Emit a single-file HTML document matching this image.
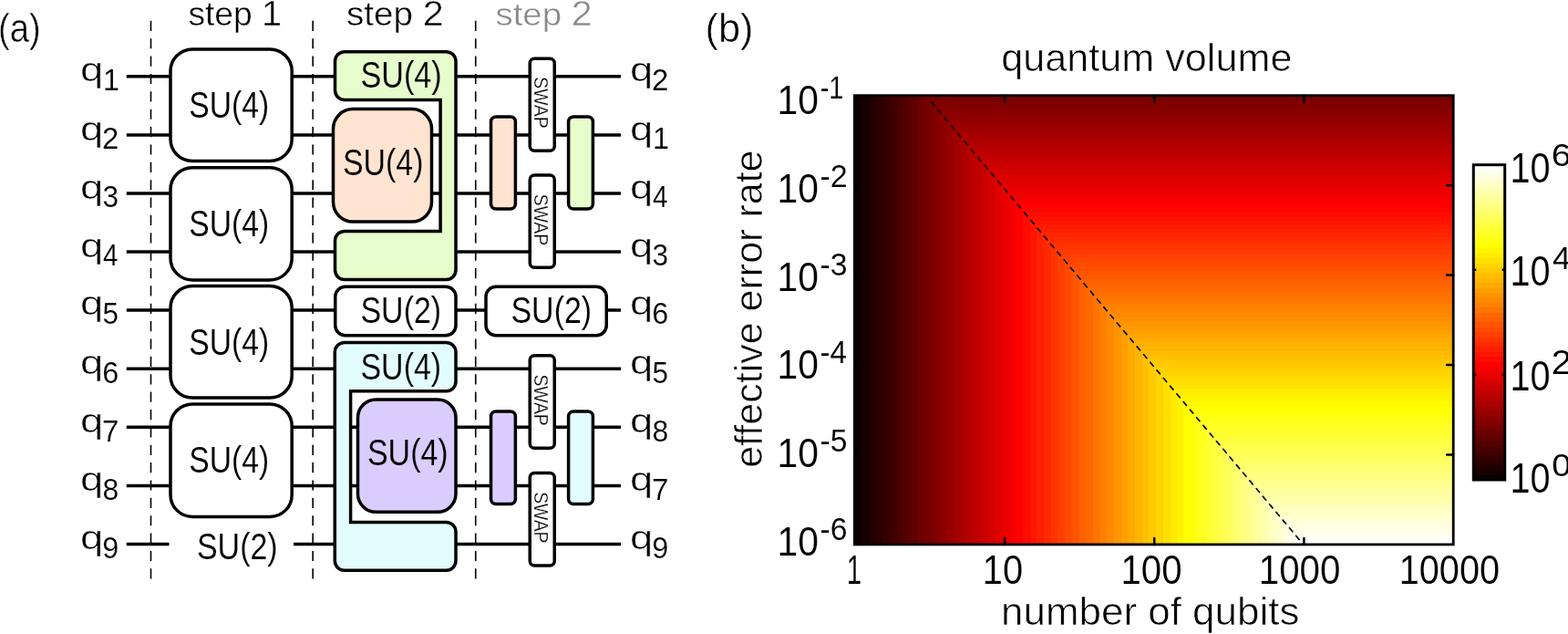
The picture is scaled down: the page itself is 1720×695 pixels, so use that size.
<!DOCTYPE html>
<html><head><meta charset="utf-8"><title>quantum volume</title>
<style>
html,body{margin:0;padding:0;background:#fff;}
body{width:1720px;height:695px;overflow:hidden;}
svg{display:block;}
text{font-family:"Liberation Sans", sans-serif;white-space:pre;}
</style></head><body>
<svg width="1720" height="695" viewBox="0 0 1720 695">
<rect width="1720" height="695" fill="#fff"/>
<g stroke="#000" stroke-width="3.5" fill="none">
<path d="M138.75 83.7H681"/>
<path d="M138.75 148.0H681"/>
<path d="M138.75 212.0H681"/>
<path d="M138.75 276.0H681"/>
<path d="M138.75 339.9H681"/>
<path d="M138.75 404.3H681"/>
<path d="M138.75 468.3H681"/>
<path d="M138.75 532.4H681"/>
<path d="M138.75 596.4H185.5M322 596.4H681"/>
</g>
<g stroke="#000" stroke-width="1.6" stroke-dasharray="11.2 8.17" fill="none">
<path d="M165.5 22.8V634.6"/>
<path d="M343.2 22.8V634.6"/>
<path d="M521.75 22.8V634.6"/>
</g>
<rect x="187" y="53.9" width="133.20" height="122.70" rx="24" ry="24" fill="#fff" stroke="#000" stroke-width="3.5"/>
<rect x="187" y="183.75" width="133.20" height="123.15" rx="24" ry="24" fill="#fff" stroke="#000" stroke-width="3.5"/>
<rect x="187" y="313.5" width="133.20" height="122.60" rx="24" ry="24" fill="#fff" stroke="#000" stroke-width="3.5"/>
<rect x="187" y="443.0" width="133.20" height="123.40" rx="24" ry="24" fill="#fff" stroke="#000" stroke-width="3.5"/>
<path d="M378.0 56.75H489.5A10.5 10.5 0 0 1 500 67.25V296.0A10.5 10.5 0 0 1 489.5 306.5H378.0A10.5 10.5 0 0 1 367.5 296.0V264.0A10.5 10.5 0 0 1 378.0 253.5H483.1V109.5H378.0A10.5 10.5 0 0 1 367.5 99.0V67.25A10.5 10.5 0 0 1 378.0 56.75Z" fill="#E6FCCC" stroke="#000" stroke-width="3.5" stroke-linejoin="miter"/>
<rect x="365.5" y="119.6" width="108.00" height="123.40" rx="21.5" ry="21.5" fill="#FFE4D1" stroke="#000" stroke-width="3.5"/>
<rect x="367.75" y="314.2" width="132.25" height="53.50" rx="11" ry="11" fill="#fff" stroke="#000" stroke-width="3.5"/>
<rect x="533" y="314.2" width="132.25" height="53.50" rx="11" ry="11" fill="#fff" stroke="#000" stroke-width="3.5"/>
<path d="M377.8 375.5H489.5A10.5 10.5 0 0 1 500 386.0V418.25A10.5 10.5 0 0 1 489.5 428.75H384.6V572.4H489.5A10.5 10.5 0 0 1 500 582.9V614.75A10.5 10.5 0 0 1 489.5 625.25H377.8A10.5 10.5 0 0 1 367.3 614.75V386.0A10.5 10.5 0 0 1 377.8 375.5Z" fill="#E3FDFE" stroke="#000" stroke-width="3.5" stroke-linejoin="miter"/>
<rect x="392.5" y="438" width="107.50" height="123.25" rx="20" ry="20" fill="#DACCFD" stroke="#000" stroke-width="3.5"/>
<rect x="581.25" y="64.25" width="27.00" height="101.00" rx="5" ry="5" fill="#fff" stroke="#000" stroke-width="3.5"/>
<rect x="581.25" y="192.05" width="27.00" height="101.20" rx="5" ry="5" fill="#fff" stroke="#000" stroke-width="3.5"/>
<rect x="581.25" y="389.75" width="27.00" height="101.50" rx="5" ry="5" fill="#fff" stroke="#000" stroke-width="3.5"/>
<rect x="581.25" y="518.5" width="27.00" height="101.50" rx="5" ry="5" fill="#fff" stroke="#000" stroke-width="3.5"/>
<rect x="538.5" y="128" width="26.90" height="101.00" rx="5.5" ry="5.5" fill="#FFE4D1" stroke="#000" stroke-width="3.5"/>
<rect x="623.6" y="128" width="26.80" height="101.00" rx="5.5" ry="5.5" fill="#E6FCCC" stroke="#000" stroke-width="3.5"/>
<rect x="538.5" y="451" width="26.90" height="101.50" rx="5.5" ry="5.5" fill="#DACCFD" stroke="#000" stroke-width="3.5"/>
<rect x="623.6" y="451" width="26.80" height="101.50" rx="5.5" ry="5.5" fill="#E3FDFE" stroke="#000" stroke-width="3.5"/>
<g font-family='"Liberation Sans", sans-serif'>
<text transform="translate(-2.09 45.60) scale(0.8697 1.02)" font-size="44" fill="#000" stroke="#fff" stroke-width="0.53" vector-effect="non-scaling-stroke">(a)</text>
<text transform="translate(773.54 45.60) scale(0.9836 1.02)" font-size="44" fill="#000" stroke="#fff" stroke-width="0.53" vector-effect="non-scaling-stroke">(b)</text>
<text transform="translate(206.38 27.50) scale(1.0342 1)" font-size="36" fill="#000" stroke="#fff" stroke-width="0.43" vector-effect="non-scaling-stroke">step <tspan font-size="38.5">1</tspan></text>
<text transform="translate(379.94 27.50) scale(1.0725 1)" font-size="36" fill="#000" stroke="#fff" stroke-width="0.43" vector-effect="non-scaling-stroke">step <tspan font-size="38.5">2</tspan></text>
<text transform="translate(543.44 27.50) scale(1.0673 1)" font-size="36" fill="#8a8a8a" stroke="#fff" stroke-width="0.43" vector-effect="non-scaling-stroke">step <tspan font-size="38.5">2</tspan></text>
<text transform="translate(88.07 89.20) scale(1.0303 0.85)" font-size="44" fill="#000" stroke="#fff" stroke-width="0.57" vector-effect="non-scaling-stroke">q</text>
<text transform="translate(113.07 98.90) scale(0.9960 1)" font-size="32.5" fill="#000" stroke="#fff" stroke-width="0.13" vector-effect="non-scaling-stroke">1</text>
<text transform="translate(691.07 89.20) scale(1.0303 0.85)" font-size="44" fill="#000" stroke="#fff" stroke-width="0.57" vector-effect="non-scaling-stroke">q</text>
<text transform="translate(715.10 98.90) scale(1.0144 1)" font-size="32.5" fill="#000" stroke="#fff" stroke-width="0.13" vector-effect="non-scaling-stroke">2</text>
<text transform="translate(88.07 153.50) scale(1.0303 0.85)" font-size="44" fill="#000" stroke="#fff" stroke-width="0.57" vector-effect="non-scaling-stroke">q</text>
<text transform="translate(112.10 163.20) scale(1.0144 1)" font-size="32.5" fill="#000" stroke="#fff" stroke-width="0.13" vector-effect="non-scaling-stroke">2</text>
<text transform="translate(691.07 153.50) scale(1.0303 0.85)" font-size="44" fill="#000" stroke="#fff" stroke-width="0.57" vector-effect="non-scaling-stroke">q</text>
<text transform="translate(716.07 163.20) scale(0.9960 1)" font-size="32.5" fill="#000" stroke="#fff" stroke-width="0.13" vector-effect="non-scaling-stroke">1</text>
<text transform="translate(88.07 217.50) scale(1.0303 0.85)" font-size="44" fill="#000" stroke="#fff" stroke-width="0.57" vector-effect="non-scaling-stroke">q</text>
<text transform="translate(112.57 227.20) scale(0.9717 1)" font-size="32.5" fill="#000" stroke="#fff" stroke-width="0.13" vector-effect="non-scaling-stroke">3</text>
<text transform="translate(691.07 217.50) scale(1.0303 0.85)" font-size="44" fill="#000" stroke="#fff" stroke-width="0.57" vector-effect="non-scaling-stroke">q</text>
<text transform="translate(716.08 227.20) scale(0.9139 1)" font-size="32.5" fill="#000" stroke="#fff" stroke-width="0.13" vector-effect="non-scaling-stroke">4</text>
<text transform="translate(88.07 281.50) scale(1.0303 0.85)" font-size="44" fill="#000" stroke="#fff" stroke-width="0.57" vector-effect="non-scaling-stroke">q</text>
<text transform="translate(113.08 291.20) scale(0.9139 1)" font-size="32.5" fill="#000" stroke="#fff" stroke-width="0.13" vector-effect="non-scaling-stroke">4</text>
<text transform="translate(691.07 281.50) scale(1.0303 0.85)" font-size="44" fill="#000" stroke="#fff" stroke-width="0.57" vector-effect="non-scaling-stroke">q</text>
<text transform="translate(715.57 291.20) scale(0.9717 1)" font-size="32.5" fill="#000" stroke="#fff" stroke-width="0.13" vector-effect="non-scaling-stroke">3</text>
<text transform="translate(88.07 345.40) scale(1.0303 0.85)" font-size="44" fill="#000" stroke="#fff" stroke-width="0.57" vector-effect="non-scaling-stroke">q</text>
<text transform="translate(112.49 355.10) scale(0.9717 1)" font-size="32.5" fill="#000" stroke="#fff" stroke-width="0.13" vector-effect="non-scaling-stroke">5</text>
<text transform="translate(691.07 345.40) scale(1.0303 0.85)" font-size="44" fill="#000" stroke="#fff" stroke-width="0.57" vector-effect="non-scaling-stroke">q</text>
<text transform="translate(715.13 355.10) scale(0.9979 1)" font-size="32.5" fill="#000" stroke="#fff" stroke-width="0.13" vector-effect="non-scaling-stroke">6</text>
<text transform="translate(88.07 409.80) scale(1.0303 0.85)" font-size="44" fill="#000" stroke="#fff" stroke-width="0.57" vector-effect="non-scaling-stroke">q</text>
<text transform="translate(112.13 419.50) scale(0.9979 1)" font-size="32.5" fill="#000" stroke="#fff" stroke-width="0.13" vector-effect="non-scaling-stroke">6</text>
<text transform="translate(691.07 409.80) scale(1.0303 0.85)" font-size="44" fill="#000" stroke="#fff" stroke-width="0.57" vector-effect="non-scaling-stroke">q</text>
<text transform="translate(715.49 419.50) scale(0.9717 1)" font-size="32.5" fill="#000" stroke="#fff" stroke-width="0.13" vector-effect="non-scaling-stroke">5</text>
<text transform="translate(88.07 473.80) scale(1.0303 0.85)" font-size="44" fill="#000" stroke="#fff" stroke-width="0.57" vector-effect="non-scaling-stroke">q</text>
<text transform="translate(112.01 483.50) scale(1.0200 1)" font-size="32.5" fill="#000" stroke="#fff" stroke-width="0.13" vector-effect="non-scaling-stroke">7</text>
<text transform="translate(691.07 473.80) scale(1.0303 0.85)" font-size="44" fill="#000" stroke="#fff" stroke-width="0.57" vector-effect="non-scaling-stroke">q</text>
<text transform="translate(715.39 483.50) scale(0.9820 1)" font-size="32.5" fill="#000" stroke="#fff" stroke-width="0.13" vector-effect="non-scaling-stroke">8</text>
<text transform="translate(88.07 537.90) scale(1.0303 0.85)" font-size="44" fill="#000" stroke="#fff" stroke-width="0.57" vector-effect="non-scaling-stroke">q</text>
<text transform="translate(112.39 547.60) scale(0.9820 1)" font-size="32.5" fill="#000" stroke="#fff" stroke-width="0.13" vector-effect="non-scaling-stroke">8</text>
<text transform="translate(691.07 537.90) scale(1.0303 0.85)" font-size="44" fill="#000" stroke="#fff" stroke-width="0.57" vector-effect="non-scaling-stroke">q</text>
<text transform="translate(715.01 547.60) scale(1.0200 1)" font-size="32.5" fill="#000" stroke="#fff" stroke-width="0.13" vector-effect="non-scaling-stroke">7</text>
<text transform="translate(88.07 601.90) scale(1.0303 0.85)" font-size="44" fill="#000" stroke="#fff" stroke-width="0.57" vector-effect="non-scaling-stroke">q</text>
<text transform="translate(112.21 611.60) scale(0.9979 1)" font-size="32.5" fill="#000" stroke="#fff" stroke-width="0.13" vector-effect="non-scaling-stroke">9</text>
<text transform="translate(691.07 601.90) scale(1.0303 0.85)" font-size="44" fill="#000" stroke="#fff" stroke-width="0.57" vector-effect="non-scaling-stroke">q</text>
<text transform="translate(715.21 611.60) scale(0.9979 1)" font-size="32.5" fill="#000" stroke="#fff" stroke-width="0.13" vector-effect="non-scaling-stroke">9</text>
<text transform="translate(207.24 129.10) scale(0.8313 1)" font-size="40.5" fill="#000" stroke="#fff" stroke-width="0.12" vector-effect="non-scaling-stroke">SU(4)</text>
<text transform="translate(207.24 258.90) scale(0.8313 1)" font-size="40.5" fill="#000" stroke="#fff" stroke-width="0.12" vector-effect="non-scaling-stroke">SU(4)</text>
<text transform="translate(207.24 388.65) scale(0.8313 1)" font-size="40.5" fill="#000" stroke="#fff" stroke-width="0.12" vector-effect="non-scaling-stroke">SU(4)</text>
<text transform="translate(207.24 518.30) scale(0.8313 1)" font-size="40.5" fill="#000" stroke="#fff" stroke-width="0.12" vector-effect="non-scaling-stroke">SU(4)</text>
<text transform="translate(215.97 612.50) scale(0.8387 1)" font-size="40.5" fill="#000" stroke="#fff" stroke-width="0.12" vector-effect="non-scaling-stroke">SU(2)</text>
<text transform="translate(395.46 95.75) scale(0.8436 1)" font-size="40.5" fill="#000" stroke="#E6FCCC" stroke-width="0.12" vector-effect="non-scaling-stroke">SU(4)</text>
<text transform="translate(375.98 192.30) scale(0.8367 1)" font-size="40.5" fill="#000" stroke="#FFE4D1" stroke-width="0.12" vector-effect="non-scaling-stroke">SU(4)</text>
<text transform="translate(395.47 353.75) scale(0.8387 1)" font-size="40.5" fill="#000" stroke="#fff" stroke-width="0.12" vector-effect="non-scaling-stroke">SU(2)</text>
<text transform="translate(560.47 353.75) scale(0.8387 1)" font-size="40.5" fill="#000" stroke="#fff" stroke-width="0.12" vector-effect="non-scaling-stroke">SU(2)</text>
<text transform="translate(395.47 416.25) scale(0.8387 1)" font-size="40.5" fill="#000" stroke="#E3FDFE" stroke-width="0.12" vector-effect="non-scaling-stroke">SU(4)</text>
<text transform="translate(402.97 510.00) scale(0.8387 1)" font-size="40.5" fill="#000" stroke="#DACCFD" stroke-width="0.12" vector-effect="non-scaling-stroke">SU(4)</text>
<text transform="translate(586.10 84.30) rotate(90) scale(0.8800 1)" font-size="22" fill="#000" stroke="#fff" stroke-width="0.26" vector-effect="non-scaling-stroke">SWAP</text>
<text transform="translate(586.10 212.80) rotate(90) scale(0.8800 1)" font-size="22" fill="#000" stroke="#fff" stroke-width="0.26" vector-effect="non-scaling-stroke">SWAP</text>
<text transform="translate(586.10 410.43) rotate(90) scale(0.8800 1)" font-size="22" fill="#000" stroke="#fff" stroke-width="0.26" vector-effect="non-scaling-stroke">SWAP</text>
<text transform="translate(586.10 539.18) rotate(90) scale(0.8800 1)" font-size="22" fill="#000" stroke="#fff" stroke-width="0.26" vector-effect="non-scaling-stroke">SWAP</text>
</g>
<defs>
<linearGradient id="gh" gradientUnits="userSpaceOnUse" x1="937.4" y1="0" x2="1429.70" y2="0"><stop offset="0.00000" stop-color="#0b0000"/><stop offset="0.01562" stop-color="#0b0000"/><stop offset="0.01562" stop-color="#150000"/><stop offset="0.03125" stop-color="#150000"/><stop offset="0.03125" stop-color="#200000"/><stop offset="0.04688" stop-color="#200000"/><stop offset="0.04688" stop-color="#2a0000"/><stop offset="0.06250" stop-color="#2a0000"/><stop offset="0.06250" stop-color="#350000"/><stop offset="0.07812" stop-color="#350000"/><stop offset="0.07812" stop-color="#400000"/><stop offset="0.09375" stop-color="#400000"/><stop offset="0.09375" stop-color="#4a0000"/><stop offset="0.10938" stop-color="#4a0000"/><stop offset="0.10938" stop-color="#550000"/><stop offset="0.12500" stop-color="#550000"/><stop offset="0.12500" stop-color="#600000"/><stop offset="0.14062" stop-color="#600000"/><stop offset="0.14062" stop-color="#6a0000"/><stop offset="0.15625" stop-color="#6a0000"/><stop offset="0.15625" stop-color="#750000"/><stop offset="0.17188" stop-color="#750000"/><stop offset="0.17188" stop-color="#800000"/><stop offset="0.18750" stop-color="#800000"/><stop offset="0.18750" stop-color="#8a0000"/><stop offset="0.20312" stop-color="#8a0000"/><stop offset="0.20312" stop-color="#950000"/><stop offset="0.21875" stop-color="#950000"/><stop offset="0.21875" stop-color="#9f0000"/><stop offset="0.23438" stop-color="#9f0000"/><stop offset="0.23438" stop-color="#aa0000"/><stop offset="0.25000" stop-color="#aa0000"/><stop offset="0.25000" stop-color="#b50000"/><stop offset="0.26562" stop-color="#b50000"/><stop offset="0.26562" stop-color="#bf0000"/><stop offset="0.28125" stop-color="#bf0000"/><stop offset="0.28125" stop-color="#ca0000"/><stop offset="0.29688" stop-color="#ca0000"/><stop offset="0.29688" stop-color="#d40000"/><stop offset="0.31250" stop-color="#d40000"/><stop offset="0.31250" stop-color="#df0000"/><stop offset="0.32812" stop-color="#df0000"/><stop offset="0.32812" stop-color="#ea0000"/><stop offset="0.34375" stop-color="#ea0000"/><stop offset="0.34375" stop-color="#f40000"/><stop offset="0.35938" stop-color="#f40000"/><stop offset="0.35938" stop-color="#ff0000"/><stop offset="0.37500" stop-color="#ff0000"/><stop offset="0.37500" stop-color="#ff0b00"/><stop offset="0.39062" stop-color="#ff0b00"/><stop offset="0.39062" stop-color="#ff1500"/><stop offset="0.40625" stop-color="#ff1500"/><stop offset="0.40625" stop-color="#ff2000"/><stop offset="0.42188" stop-color="#ff2000"/><stop offset="0.42188" stop-color="#ff2a00"/><stop offset="0.43750" stop-color="#ff2a00"/><stop offset="0.43750" stop-color="#ff3500"/><stop offset="0.45312" stop-color="#ff3500"/><stop offset="0.45312" stop-color="#ff4000"/><stop offset="0.46875" stop-color="#ff4000"/><stop offset="0.46875" stop-color="#ff4a00"/><stop offset="0.48438" stop-color="#ff4a00"/><stop offset="0.48438" stop-color="#ff5500"/><stop offset="0.50000" stop-color="#ff5500"/><stop offset="0.50000" stop-color="#ff6000"/><stop offset="0.51562" stop-color="#ff6000"/><stop offset="0.51562" stop-color="#ff6a00"/><stop offset="0.53125" stop-color="#ff6a00"/><stop offset="0.53125" stop-color="#ff7500"/><stop offset="0.54688" stop-color="#ff7500"/><stop offset="0.54688" stop-color="#ff8000"/><stop offset="0.56250" stop-color="#ff8000"/><stop offset="0.56250" stop-color="#ff8a00"/><stop offset="0.57812" stop-color="#ff8a00"/><stop offset="0.57812" stop-color="#ff9500"/><stop offset="0.59375" stop-color="#ff9500"/><stop offset="0.59375" stop-color="#ff9f00"/><stop offset="0.60938" stop-color="#ff9f00"/><stop offset="0.60938" stop-color="#ffaa00"/><stop offset="0.62500" stop-color="#ffaa00"/><stop offset="0.62500" stop-color="#ffb500"/><stop offset="0.64062" stop-color="#ffb500"/><stop offset="0.64062" stop-color="#ffbf00"/><stop offset="0.65625" stop-color="#ffbf00"/><stop offset="0.65625" stop-color="#ffca00"/><stop offset="0.67188" stop-color="#ffca00"/><stop offset="0.67188" stop-color="#ffd400"/><stop offset="0.68750" stop-color="#ffd400"/><stop offset="0.68750" stop-color="#ffdf00"/><stop offset="0.70312" stop-color="#ffdf00"/><stop offset="0.70312" stop-color="#ffea00"/><stop offset="0.71875" stop-color="#ffea00"/><stop offset="0.71875" stop-color="#fff400"/><stop offset="0.73438" stop-color="#fff400"/><stop offset="0.73438" stop-color="#ffff00"/><stop offset="0.75000" stop-color="#ffff00"/><stop offset="0.75000" stop-color="#ffff10"/><stop offset="0.76562" stop-color="#ffff10"/><stop offset="0.76562" stop-color="#ffff20"/><stop offset="0.78125" stop-color="#ffff20"/><stop offset="0.78125" stop-color="#ffff30"/><stop offset="0.79688" stop-color="#ffff30"/><stop offset="0.79688" stop-color="#ffff40"/><stop offset="0.81250" stop-color="#ffff40"/><stop offset="0.81250" stop-color="#ffff50"/><stop offset="0.82812" stop-color="#ffff50"/><stop offset="0.82812" stop-color="#ffff60"/><stop offset="0.84375" stop-color="#ffff60"/><stop offset="0.84375" stop-color="#ffff70"/><stop offset="0.85938" stop-color="#ffff70"/><stop offset="0.85938" stop-color="#ffff80"/><stop offset="0.87500" stop-color="#ffff80"/><stop offset="0.87500" stop-color="#ffff8f"/><stop offset="0.89062" stop-color="#ffff8f"/><stop offset="0.89062" stop-color="#ffff9f"/><stop offset="0.90625" stop-color="#ffff9f"/><stop offset="0.90625" stop-color="#ffffaf"/><stop offset="0.92188" stop-color="#ffffaf"/><stop offset="0.92188" stop-color="#ffffbf"/><stop offset="0.93750" stop-color="#ffffbf"/><stop offset="0.93750" stop-color="#ffffcf"/><stop offset="0.95312" stop-color="#ffffcf"/><stop offset="0.95312" stop-color="#ffffdf"/><stop offset="0.96875" stop-color="#ffffdf"/><stop offset="0.96875" stop-color="#ffffef"/><stop offset="0.98438" stop-color="#ffffef"/><stop offset="0.98438" stop-color="#ffffff"/><stop offset="1.00000" stop-color="#ffffff"/></linearGradient>
<linearGradient id="gv" gradientUnits="userSpaceOnUse" x1="0" y1="6.26" x2="0" y2="596.9"><stop offset="0.00000" stop-color="#050000"/><stop offset="0.00781" stop-color="#050000"/><stop offset="0.00781" stop-color="#0b0000"/><stop offset="0.01562" stop-color="#0b0000"/><stop offset="0.01562" stop-color="#100000"/><stop offset="0.02344" stop-color="#100000"/><stop offset="0.02344" stop-color="#150000"/><stop offset="0.03125" stop-color="#150000"/><stop offset="0.03125" stop-color="#1b0000"/><stop offset="0.03906" stop-color="#1b0000"/><stop offset="0.03906" stop-color="#200000"/><stop offset="0.04688" stop-color="#200000"/><stop offset="0.04688" stop-color="#250000"/><stop offset="0.05469" stop-color="#250000"/><stop offset="0.05469" stop-color="#2a0000"/><stop offset="0.06250" stop-color="#2a0000"/><stop offset="0.06250" stop-color="#300000"/><stop offset="0.07031" stop-color="#300000"/><stop offset="0.07031" stop-color="#350000"/><stop offset="0.07812" stop-color="#350000"/><stop offset="0.07812" stop-color="#3a0000"/><stop offset="0.08594" stop-color="#3a0000"/><stop offset="0.08594" stop-color="#400000"/><stop offset="0.09375" stop-color="#400000"/><stop offset="0.09375" stop-color="#450000"/><stop offset="0.10156" stop-color="#450000"/><stop offset="0.10156" stop-color="#4a0000"/><stop offset="0.10938" stop-color="#4a0000"/><stop offset="0.10938" stop-color="#500000"/><stop offset="0.11719" stop-color="#500000"/><stop offset="0.11719" stop-color="#550000"/><stop offset="0.12500" stop-color="#550000"/><stop offset="0.12500" stop-color="#5a0000"/><stop offset="0.13281" stop-color="#5a0000"/><stop offset="0.13281" stop-color="#600000"/><stop offset="0.14062" stop-color="#600000"/><stop offset="0.14062" stop-color="#650000"/><stop offset="0.14844" stop-color="#650000"/><stop offset="0.14844" stop-color="#6a0000"/><stop offset="0.15625" stop-color="#6a0000"/><stop offset="0.15625" stop-color="#700000"/><stop offset="0.16406" stop-color="#700000"/><stop offset="0.16406" stop-color="#750000"/><stop offset="0.17188" stop-color="#750000"/><stop offset="0.17188" stop-color="#7a0000"/><stop offset="0.17969" stop-color="#7a0000"/><stop offset="0.17969" stop-color="#800000"/><stop offset="0.18750" stop-color="#800000"/><stop offset="0.18750" stop-color="#850000"/><stop offset="0.19531" stop-color="#850000"/><stop offset="0.19531" stop-color="#8a0000"/><stop offset="0.20312" stop-color="#8a0000"/><stop offset="0.20312" stop-color="#8f0000"/><stop offset="0.21094" stop-color="#8f0000"/><stop offset="0.21094" stop-color="#950000"/><stop offset="0.21875" stop-color="#950000"/><stop offset="0.21875" stop-color="#9a0000"/><stop offset="0.22656" stop-color="#9a0000"/><stop offset="0.22656" stop-color="#9f0000"/><stop offset="0.23438" stop-color="#9f0000"/><stop offset="0.23438" stop-color="#a50000"/><stop offset="0.24219" stop-color="#a50000"/><stop offset="0.24219" stop-color="#aa0000"/><stop offset="0.25000" stop-color="#aa0000"/><stop offset="0.25000" stop-color="#af0000"/><stop offset="0.25781" stop-color="#af0000"/><stop offset="0.25781" stop-color="#b50000"/><stop offset="0.26562" stop-color="#b50000"/><stop offset="0.26562" stop-color="#ba0000"/><stop offset="0.27344" stop-color="#ba0000"/><stop offset="0.27344" stop-color="#bf0000"/><stop offset="0.28125" stop-color="#bf0000"/><stop offset="0.28125" stop-color="#c50000"/><stop offset="0.28906" stop-color="#c50000"/><stop offset="0.28906" stop-color="#ca0000"/><stop offset="0.29688" stop-color="#ca0000"/><stop offset="0.29688" stop-color="#cf0000"/><stop offset="0.30469" stop-color="#cf0000"/><stop offset="0.30469" stop-color="#d40000"/><stop offset="0.31250" stop-color="#d40000"/><stop offset="0.31250" stop-color="#da0000"/><stop offset="0.32031" stop-color="#da0000"/><stop offset="0.32031" stop-color="#df0000"/><stop offset="0.32812" stop-color="#df0000"/><stop offset="0.32812" stop-color="#e40000"/><stop offset="0.33594" stop-color="#e40000"/><stop offset="0.33594" stop-color="#ea0000"/><stop offset="0.34375" stop-color="#ea0000"/><stop offset="0.34375" stop-color="#ef0000"/><stop offset="0.35156" stop-color="#ef0000"/><stop offset="0.35156" stop-color="#f40000"/><stop offset="0.35938" stop-color="#f40000"/><stop offset="0.35938" stop-color="#fa0000"/><stop offset="0.36719" stop-color="#fa0000"/><stop offset="0.36719" stop-color="#ff0000"/><stop offset="0.37500" stop-color="#ff0000"/><stop offset="0.37500" stop-color="#ff0500"/><stop offset="0.38281" stop-color="#ff0500"/><stop offset="0.38281" stop-color="#ff0b00"/><stop offset="0.39062" stop-color="#ff0b00"/><stop offset="0.39062" stop-color="#ff1000"/><stop offset="0.39844" stop-color="#ff1000"/><stop offset="0.39844" stop-color="#ff1500"/><stop offset="0.40625" stop-color="#ff1500"/><stop offset="0.40625" stop-color="#ff1b00"/><stop offset="0.41406" stop-color="#ff1b00"/><stop offset="0.41406" stop-color="#ff2000"/><stop offset="0.42188" stop-color="#ff2000"/><stop offset="0.42188" stop-color="#ff2500"/><stop offset="0.42969" stop-color="#ff2500"/><stop offset="0.42969" stop-color="#ff2b00"/><stop offset="0.43750" stop-color="#ff2b00"/><stop offset="0.43750" stop-color="#ff3000"/><stop offset="0.44531" stop-color="#ff3000"/><stop offset="0.44531" stop-color="#ff3500"/><stop offset="0.45312" stop-color="#ff3500"/><stop offset="0.45312" stop-color="#ff3a00"/><stop offset="0.46094" stop-color="#ff3a00"/><stop offset="0.46094" stop-color="#ff4000"/><stop offset="0.46875" stop-color="#ff4000"/><stop offset="0.46875" stop-color="#ff4500"/><stop offset="0.47656" stop-color="#ff4500"/><stop offset="0.47656" stop-color="#ff4a00"/><stop offset="0.48438" stop-color="#ff4a00"/><stop offset="0.48438" stop-color="#ff5000"/><stop offset="0.49219" stop-color="#ff5000"/><stop offset="0.49219" stop-color="#ff5500"/><stop offset="0.50000" stop-color="#ff5500"/><stop offset="0.50000" stop-color="#ff5a00"/><stop offset="0.50781" stop-color="#ff5a00"/><stop offset="0.50781" stop-color="#ff6000"/><stop offset="0.51562" stop-color="#ff6000"/><stop offset="0.51562" stop-color="#ff6500"/><stop offset="0.52344" stop-color="#ff6500"/><stop offset="0.52344" stop-color="#ff6a00"/><stop offset="0.53125" stop-color="#ff6a00"/><stop offset="0.53125" stop-color="#ff7000"/><stop offset="0.53906" stop-color="#ff7000"/><stop offset="0.53906" stop-color="#ff7500"/><stop offset="0.54688" stop-color="#ff7500"/><stop offset="0.54688" stop-color="#ff7a00"/><stop offset="0.55469" stop-color="#ff7a00"/><stop offset="0.55469" stop-color="#ff8000"/><stop offset="0.56250" stop-color="#ff8000"/><stop offset="0.56250" stop-color="#ff8500"/><stop offset="0.57031" stop-color="#ff8500"/><stop offset="0.57031" stop-color="#ff8a00"/><stop offset="0.57812" stop-color="#ff8a00"/><stop offset="0.57812" stop-color="#ff8f00"/><stop offset="0.58594" stop-color="#ff8f00"/><stop offset="0.58594" stop-color="#ff9500"/><stop offset="0.59375" stop-color="#ff9500"/><stop offset="0.59375" stop-color="#ff9a00"/><stop offset="0.60156" stop-color="#ff9a00"/><stop offset="0.60156" stop-color="#ff9f00"/><stop offset="0.60938" stop-color="#ff9f00"/><stop offset="0.60938" stop-color="#ffa500"/><stop offset="0.61719" stop-color="#ffa500"/><stop offset="0.61719" stop-color="#ffaa00"/><stop offset="0.62500" stop-color="#ffaa00"/><stop offset="0.62500" stop-color="#ffaf00"/><stop offset="0.63281" stop-color="#ffaf00"/><stop offset="0.63281" stop-color="#ffb500"/><stop offset="0.64062" stop-color="#ffb500"/><stop offset="0.64062" stop-color="#ffba00"/><stop offset="0.64844" stop-color="#ffba00"/><stop offset="0.64844" stop-color="#ffbf00"/><stop offset="0.65625" stop-color="#ffbf00"/><stop offset="0.65625" stop-color="#ffc500"/><stop offset="0.66406" stop-color="#ffc500"/><stop offset="0.66406" stop-color="#ffca00"/><stop offset="0.67188" stop-color="#ffca00"/><stop offset="0.67188" stop-color="#ffcf00"/><stop offset="0.67969" stop-color="#ffcf00"/><stop offset="0.67969" stop-color="#ffd400"/><stop offset="0.68750" stop-color="#ffd400"/><stop offset="0.68750" stop-color="#ffda00"/><stop offset="0.69531" stop-color="#ffda00"/><stop offset="0.69531" stop-color="#ffdf00"/><stop offset="0.70312" stop-color="#ffdf00"/><stop offset="0.70312" stop-color="#ffe400"/><stop offset="0.71094" stop-color="#ffe400"/><stop offset="0.71094" stop-color="#ffea00"/><stop offset="0.71875" stop-color="#ffea00"/><stop offset="0.71875" stop-color="#ffef00"/><stop offset="0.72656" stop-color="#ffef00"/><stop offset="0.72656" stop-color="#fff400"/><stop offset="0.73438" stop-color="#fff400"/><stop offset="0.73438" stop-color="#fffa00"/><stop offset="0.74219" stop-color="#fffa00"/><stop offset="0.74219" stop-color="#ffff00"/><stop offset="0.75000" stop-color="#ffff00"/><stop offset="0.75000" stop-color="#ffff08"/><stop offset="0.75781" stop-color="#ffff08"/><stop offset="0.75781" stop-color="#ffff10"/><stop offset="0.76562" stop-color="#ffff10"/><stop offset="0.76562" stop-color="#ffff18"/><stop offset="0.77344" stop-color="#ffff18"/><stop offset="0.77344" stop-color="#ffff20"/><stop offset="0.78125" stop-color="#ffff20"/><stop offset="0.78125" stop-color="#ffff28"/><stop offset="0.78906" stop-color="#ffff28"/><stop offset="0.78906" stop-color="#ffff30"/><stop offset="0.79688" stop-color="#ffff30"/><stop offset="0.79688" stop-color="#ffff38"/><stop offset="0.80469" stop-color="#ffff38"/><stop offset="0.80469" stop-color="#ffff40"/><stop offset="0.81250" stop-color="#ffff40"/><stop offset="0.81250" stop-color="#ffff48"/><stop offset="0.82031" stop-color="#ffff48"/><stop offset="0.82031" stop-color="#ffff50"/><stop offset="0.82812" stop-color="#ffff50"/><stop offset="0.82812" stop-color="#ffff58"/><stop offset="0.83594" stop-color="#ffff58"/><stop offset="0.83594" stop-color="#ffff60"/><stop offset="0.84375" stop-color="#ffff60"/><stop offset="0.84375" stop-color="#ffff68"/><stop offset="0.85156" stop-color="#ffff68"/><stop offset="0.85156" stop-color="#ffff70"/><stop offset="0.85938" stop-color="#ffff70"/><stop offset="0.85938" stop-color="#ffff78"/><stop offset="0.86719" stop-color="#ffff78"/><stop offset="0.86719" stop-color="#ffff80"/><stop offset="0.87500" stop-color="#ffff80"/><stop offset="0.87500" stop-color="#ffff87"/><stop offset="0.88281" stop-color="#ffff87"/><stop offset="0.88281" stop-color="#ffff8f"/><stop offset="0.89062" stop-color="#ffff8f"/><stop offset="0.89062" stop-color="#ffff97"/><stop offset="0.89844" stop-color="#ffff97"/><stop offset="0.89844" stop-color="#ffff9f"/><stop offset="0.90625" stop-color="#ffff9f"/><stop offset="0.90625" stop-color="#ffffa7"/><stop offset="0.91406" stop-color="#ffffa7"/><stop offset="0.91406" stop-color="#ffffaf"/><stop offset="0.92188" stop-color="#ffffaf"/><stop offset="0.92188" stop-color="#ffffb7"/><stop offset="0.92969" stop-color="#ffffb7"/><stop offset="0.92969" stop-color="#ffffbf"/><stop offset="0.93750" stop-color="#ffffbf"/><stop offset="0.93750" stop-color="#ffffc7"/><stop offset="0.94531" stop-color="#ffffc7"/><stop offset="0.94531" stop-color="#ffffcf"/><stop offset="0.95312" stop-color="#ffffcf"/><stop offset="0.95312" stop-color="#ffffd7"/><stop offset="0.96094" stop-color="#ffffd7"/><stop offset="0.96094" stop-color="#ffffdf"/><stop offset="0.96875" stop-color="#ffffdf"/><stop offset="0.96875" stop-color="#ffffe7"/><stop offset="0.97656" stop-color="#ffffe7"/><stop offset="0.97656" stop-color="#ffffef"/><stop offset="0.98438" stop-color="#ffffef"/><stop offset="0.98438" stop-color="#fffff7"/><stop offset="0.99219" stop-color="#fffff7"/><stop offset="0.99219" stop-color="#ffffff"/><stop offset="1.00000" stop-color="#ffffff"/></linearGradient>
<linearGradient id="gc" gradientUnits="userSpaceOnUse" x1="0" y1="526.0" x2="0" y2="180.7"><stop offset="0.00000" stop-color="#0b0000"/><stop offset="0.01562" stop-color="#0b0000"/><stop offset="0.01562" stop-color="#150000"/><stop offset="0.03125" stop-color="#150000"/><stop offset="0.03125" stop-color="#200000"/><stop offset="0.04688" stop-color="#200000"/><stop offset="0.04688" stop-color="#2a0000"/><stop offset="0.06250" stop-color="#2a0000"/><stop offset="0.06250" stop-color="#350000"/><stop offset="0.07812" stop-color="#350000"/><stop offset="0.07812" stop-color="#400000"/><stop offset="0.09375" stop-color="#400000"/><stop offset="0.09375" stop-color="#4a0000"/><stop offset="0.10938" stop-color="#4a0000"/><stop offset="0.10938" stop-color="#550000"/><stop offset="0.12500" stop-color="#550000"/><stop offset="0.12500" stop-color="#600000"/><stop offset="0.14062" stop-color="#600000"/><stop offset="0.14062" stop-color="#6a0000"/><stop offset="0.15625" stop-color="#6a0000"/><stop offset="0.15625" stop-color="#750000"/><stop offset="0.17188" stop-color="#750000"/><stop offset="0.17188" stop-color="#800000"/><stop offset="0.18750" stop-color="#800000"/><stop offset="0.18750" stop-color="#8a0000"/><stop offset="0.20312" stop-color="#8a0000"/><stop offset="0.20312" stop-color="#950000"/><stop offset="0.21875" stop-color="#950000"/><stop offset="0.21875" stop-color="#9f0000"/><stop offset="0.23438" stop-color="#9f0000"/><stop offset="0.23438" stop-color="#aa0000"/><stop offset="0.25000" stop-color="#aa0000"/><stop offset="0.25000" stop-color="#b50000"/><stop offset="0.26562" stop-color="#b50000"/><stop offset="0.26562" stop-color="#bf0000"/><stop offset="0.28125" stop-color="#bf0000"/><stop offset="0.28125" stop-color="#ca0000"/><stop offset="0.29688" stop-color="#ca0000"/><stop offset="0.29688" stop-color="#d40000"/><stop offset="0.31250" stop-color="#d40000"/><stop offset="0.31250" stop-color="#df0000"/><stop offset="0.32812" stop-color="#df0000"/><stop offset="0.32812" stop-color="#ea0000"/><stop offset="0.34375" stop-color="#ea0000"/><stop offset="0.34375" stop-color="#f40000"/><stop offset="0.35938" stop-color="#f40000"/><stop offset="0.35938" stop-color="#ff0000"/><stop offset="0.37500" stop-color="#ff0000"/><stop offset="0.37500" stop-color="#ff0b00"/><stop offset="0.39062" stop-color="#ff0b00"/><stop offset="0.39062" stop-color="#ff1500"/><stop offset="0.40625" stop-color="#ff1500"/><stop offset="0.40625" stop-color="#ff2000"/><stop offset="0.42188" stop-color="#ff2000"/><stop offset="0.42188" stop-color="#ff2a00"/><stop offset="0.43750" stop-color="#ff2a00"/><stop offset="0.43750" stop-color="#ff3500"/><stop offset="0.45312" stop-color="#ff3500"/><stop offset="0.45312" stop-color="#ff4000"/><stop offset="0.46875" stop-color="#ff4000"/><stop offset="0.46875" stop-color="#ff4a00"/><stop offset="0.48438" stop-color="#ff4a00"/><stop offset="0.48438" stop-color="#ff5500"/><stop offset="0.50000" stop-color="#ff5500"/><stop offset="0.50000" stop-color="#ff6000"/><stop offset="0.51562" stop-color="#ff6000"/><stop offset="0.51562" stop-color="#ff6a00"/><stop offset="0.53125" stop-color="#ff6a00"/><stop offset="0.53125" stop-color="#ff7500"/><stop offset="0.54688" stop-color="#ff7500"/><stop offset="0.54688" stop-color="#ff8000"/><stop offset="0.56250" stop-color="#ff8000"/><stop offset="0.56250" stop-color="#ff8a00"/><stop offset="0.57812" stop-color="#ff8a00"/><stop offset="0.57812" stop-color="#ff9500"/><stop offset="0.59375" stop-color="#ff9500"/><stop offset="0.59375" stop-color="#ff9f00"/><stop offset="0.60938" stop-color="#ff9f00"/><stop offset="0.60938" stop-color="#ffaa00"/><stop offset="0.62500" stop-color="#ffaa00"/><stop offset="0.62500" stop-color="#ffb500"/><stop offset="0.64062" stop-color="#ffb500"/><stop offset="0.64062" stop-color="#ffbf00"/><stop offset="0.65625" stop-color="#ffbf00"/><stop offset="0.65625" stop-color="#ffca00"/><stop offset="0.67188" stop-color="#ffca00"/><stop offset="0.67188" stop-color="#ffd400"/><stop offset="0.68750" stop-color="#ffd400"/><stop offset="0.68750" stop-color="#ffdf00"/><stop offset="0.70312" stop-color="#ffdf00"/><stop offset="0.70312" stop-color="#ffea00"/><stop offset="0.71875" stop-color="#ffea00"/><stop offset="0.71875" stop-color="#fff400"/><stop offset="0.73438" stop-color="#fff400"/><stop offset="0.73438" stop-color="#ffff00"/><stop offset="0.75000" stop-color="#ffff00"/><stop offset="0.75000" stop-color="#ffff10"/><stop offset="0.76562" stop-color="#ffff10"/><stop offset="0.76562" stop-color="#ffff20"/><stop offset="0.78125" stop-color="#ffff20"/><stop offset="0.78125" stop-color="#ffff30"/><stop offset="0.79688" stop-color="#ffff30"/><stop offset="0.79688" stop-color="#ffff40"/><stop offset="0.81250" stop-color="#ffff40"/><stop offset="0.81250" stop-color="#ffff50"/><stop offset="0.82812" stop-color="#ffff50"/><stop offset="0.82812" stop-color="#ffff60"/><stop offset="0.84375" stop-color="#ffff60"/><stop offset="0.84375" stop-color="#ffff70"/><stop offset="0.85938" stop-color="#ffff70"/><stop offset="0.85938" stop-color="#ffff80"/><stop offset="0.87500" stop-color="#ffff80"/><stop offset="0.87500" stop-color="#ffff8f"/><stop offset="0.89062" stop-color="#ffff8f"/><stop offset="0.89062" stop-color="#ffff9f"/><stop offset="0.90625" stop-color="#ffff9f"/><stop offset="0.90625" stop-color="#ffffaf"/><stop offset="0.92188" stop-color="#ffffaf"/><stop offset="0.92188" stop-color="#ffffbf"/><stop offset="0.93750" stop-color="#ffffbf"/><stop offset="0.93750" stop-color="#ffffcf"/><stop offset="0.95312" stop-color="#ffffcf"/><stop offset="0.95312" stop-color="#ffffdf"/><stop offset="0.96875" stop-color="#ffffdf"/><stop offset="0.96875" stop-color="#ffffef"/><stop offset="0.98438" stop-color="#ffffef"/><stop offset="0.98438" stop-color="#ffffff"/><stop offset="1.00000" stop-color="#ffffff"/></linearGradient>
</defs>
<rect x="937.4" y="104.7" width="656.80" height="492.20" fill="url(#gv)"/>
<path d="M937.4 104.7H1015.72L1429.70 596.9H937.4Z" fill="url(#gh)"/>
<path d="M1021.71 111.82L1429.70 596.9" stroke="#000" stroke-width="1.7" stroke-dasharray="5.2 6.1" stroke-linecap="round" fill="none"/>
<g stroke="#000" stroke-width="2.5" stroke-linecap="round" fill="none">
<path d="M1102.00 104.7v7M1102.00 596.9v-7"/>
<path d="M1266.20 104.7v7M1266.20 596.9v-7"/>
<path d="M1430.40 104.7v7M1430.40 596.9v-7"/>
<path d="M937.4 203.14h7M1594.2 203.14h-7"/>
<path d="M937.4 301.58h7M1594.2 301.58h-7"/>
<path d="M937.4 400.02h7M1594.2 400.02h-7"/>
<path d="M937.4 498.46h7M1594.2 498.46h-7"/>
</g>
<rect x="937.4" y="104.7" width="656.80" height="492.20" fill="none" stroke="#000" stroke-width="2.8"/>
<rect x="1616.3" y="180.7" width="34.4" height="345.30" fill="url(#gc)" stroke="#000" stroke-width="3"/>
<g stroke="#000" stroke-width="2.4" fill="none">
<path d="M1616.3 410.90h3M1650.7 410.90h-3"/>
<path d="M1616.3 295.80h3M1650.7 295.80h-3"/>
</g>
<g font-family='"Liberation Sans", sans-serif'>
<text transform="translate(1098.37 78.30) scale(1.0527 1.03)" font-size="41" fill="#000" stroke="#fff" stroke-width="0.66" vector-effect="non-scaling-stroke">quantum volume</text>
<text transform="translate(1098.03 684.90) scale(1.0722 1.03)" font-size="41" fill="#000" stroke="#fff" stroke-width="0.66" vector-effect="non-scaling-stroke">number of qubits</text>
<text transform="translate(836.40 512.83) rotate(-90) scale(1.0499 1.03)" font-size="41" fill="#000" stroke="#fff" stroke-width="0.66" vector-effect="non-scaling-stroke">effective error rate</text>
<text transform="translate(852.44 124.60) scale(0.9180 1)" font-size="44.5" fill="#000" stroke="#fff" stroke-width="0.13" vector-effect="non-scaling-stroke">10</text>
<text transform="translate(899.70 107.60) scale(0.8266 1)" font-size="35" fill="#000" stroke="#fff" stroke-width="0.10" vector-effect="non-scaling-stroke">-1</text>
<text transform="translate(852.44 222.20) scale(0.9180 1)" font-size="44.5" fill="#000" stroke="#fff" stroke-width="0.13" vector-effect="non-scaling-stroke">10</text>
<text transform="translate(899.47 205.20) scale(0.9734 1)" font-size="35" fill="#000" stroke="#fff" stroke-width="0.10" vector-effect="non-scaling-stroke">-2</text>
<text transform="translate(852.44 318.50) scale(0.9180 1)" font-size="44.5" fill="#000" stroke="#fff" stroke-width="0.13" vector-effect="non-scaling-stroke">10</text>
<text transform="translate(899.48 301.50) scale(0.9643 1)" font-size="35" fill="#000" stroke="#fff" stroke-width="0.10" vector-effect="non-scaling-stroke">-3</text>
<text transform="translate(852.44 414.60) scale(0.9180 1)" font-size="44.5" fill="#000" stroke="#fff" stroke-width="0.13" vector-effect="non-scaling-stroke">10</text>
<text transform="translate(899.51 397.60) scale(0.9465 1)" font-size="35" fill="#000" stroke="#fff" stroke-width="0.10" vector-effect="non-scaling-stroke">-4</text>
<text transform="translate(852.44 511.60) scale(0.9180 1)" font-size="44.5" fill="#000" stroke="#fff" stroke-width="0.13" vector-effect="non-scaling-stroke">10</text>
<text transform="translate(899.49 494.60) scale(0.9613 1)" font-size="35" fill="#000" stroke="#fff" stroke-width="0.10" vector-effect="non-scaling-stroke">-5</text>
<text transform="translate(852.44 609.20) scale(0.9180 1)" font-size="44.5" fill="#000" stroke="#fff" stroke-width="0.13" vector-effect="non-scaling-stroke">10</text>
<text transform="translate(899.48 592.20) scale(0.9643 1)" font-size="35" fill="#000" stroke="#fff" stroke-width="0.10" vector-effect="non-scaling-stroke">-6</text>
<text transform="translate(928.79 639.50) scale(0.6625 1)" font-size="44.5" fill="#000" stroke="#fff" stroke-width="0.13" vector-effect="non-scaling-stroke">1</text>
<text transform="translate(1077.76 639.50) scale(0.8955 1)" font-size="44.5" fill="#000" stroke="#fff" stroke-width="0.13" vector-effect="non-scaling-stroke">10</text>
<text transform="translate(1229.49 639.50) scale(0.9032 1)" font-size="44.5" fill="#000" stroke="#fff" stroke-width="0.13" vector-effect="non-scaling-stroke">100</text>
<text transform="translate(1380.73 639.50) scale(0.9053 1)" font-size="44.5" fill="#000" stroke="#fff" stroke-width="0.13" vector-effect="non-scaling-stroke">1000</text>
<text transform="translate(1534.72 639.50) scale(0.8921 1)" font-size="44.5" fill="#000" stroke="#fff" stroke-width="0.13" vector-effect="non-scaling-stroke">10000</text>
<text transform="translate(1656.42 200.00) scale(0.8630 1)" font-size="46" fill="#000" stroke="#fff" stroke-width="0.14" vector-effect="non-scaling-stroke">10</text>
<text transform="translate(1701.83 182.00) scale(1.0931 1)" font-size="36" fill="#000" stroke="#fff" stroke-width="0.11" vector-effect="non-scaling-stroke">6</text>
<text transform="translate(1656.42 312.50) scale(0.8630 1)" font-size="46" fill="#000" stroke="#fff" stroke-width="0.14" vector-effect="non-scaling-stroke">10</text>
<text transform="translate(1702.99 294.50) scale(1.0011 1)" font-size="36" fill="#000" stroke="#fff" stroke-width="0.11" vector-effect="non-scaling-stroke">4</text>
<text transform="translate(1656.42 427.60) scale(0.8630 1)" font-size="46" fill="#000" stroke="#fff" stroke-width="0.14" vector-effect="non-scaling-stroke">10</text>
<text transform="translate(1701.80 409.60) scale(1.1111 1)" font-size="36" fill="#000" stroke="#fff" stroke-width="0.11" vector-effect="non-scaling-stroke">2</text>
<text transform="translate(1656.42 540.00) scale(0.8630 1)" font-size="46" fill="#000" stroke="#fff" stroke-width="0.14" vector-effect="non-scaling-stroke">10</text>
<text transform="translate(1702.28 522.00) scale(1.0588 1)" font-size="36" fill="#000" stroke="#fff" stroke-width="0.11" vector-effect="non-scaling-stroke">0</text>
</g>
</svg>
</body></html>
